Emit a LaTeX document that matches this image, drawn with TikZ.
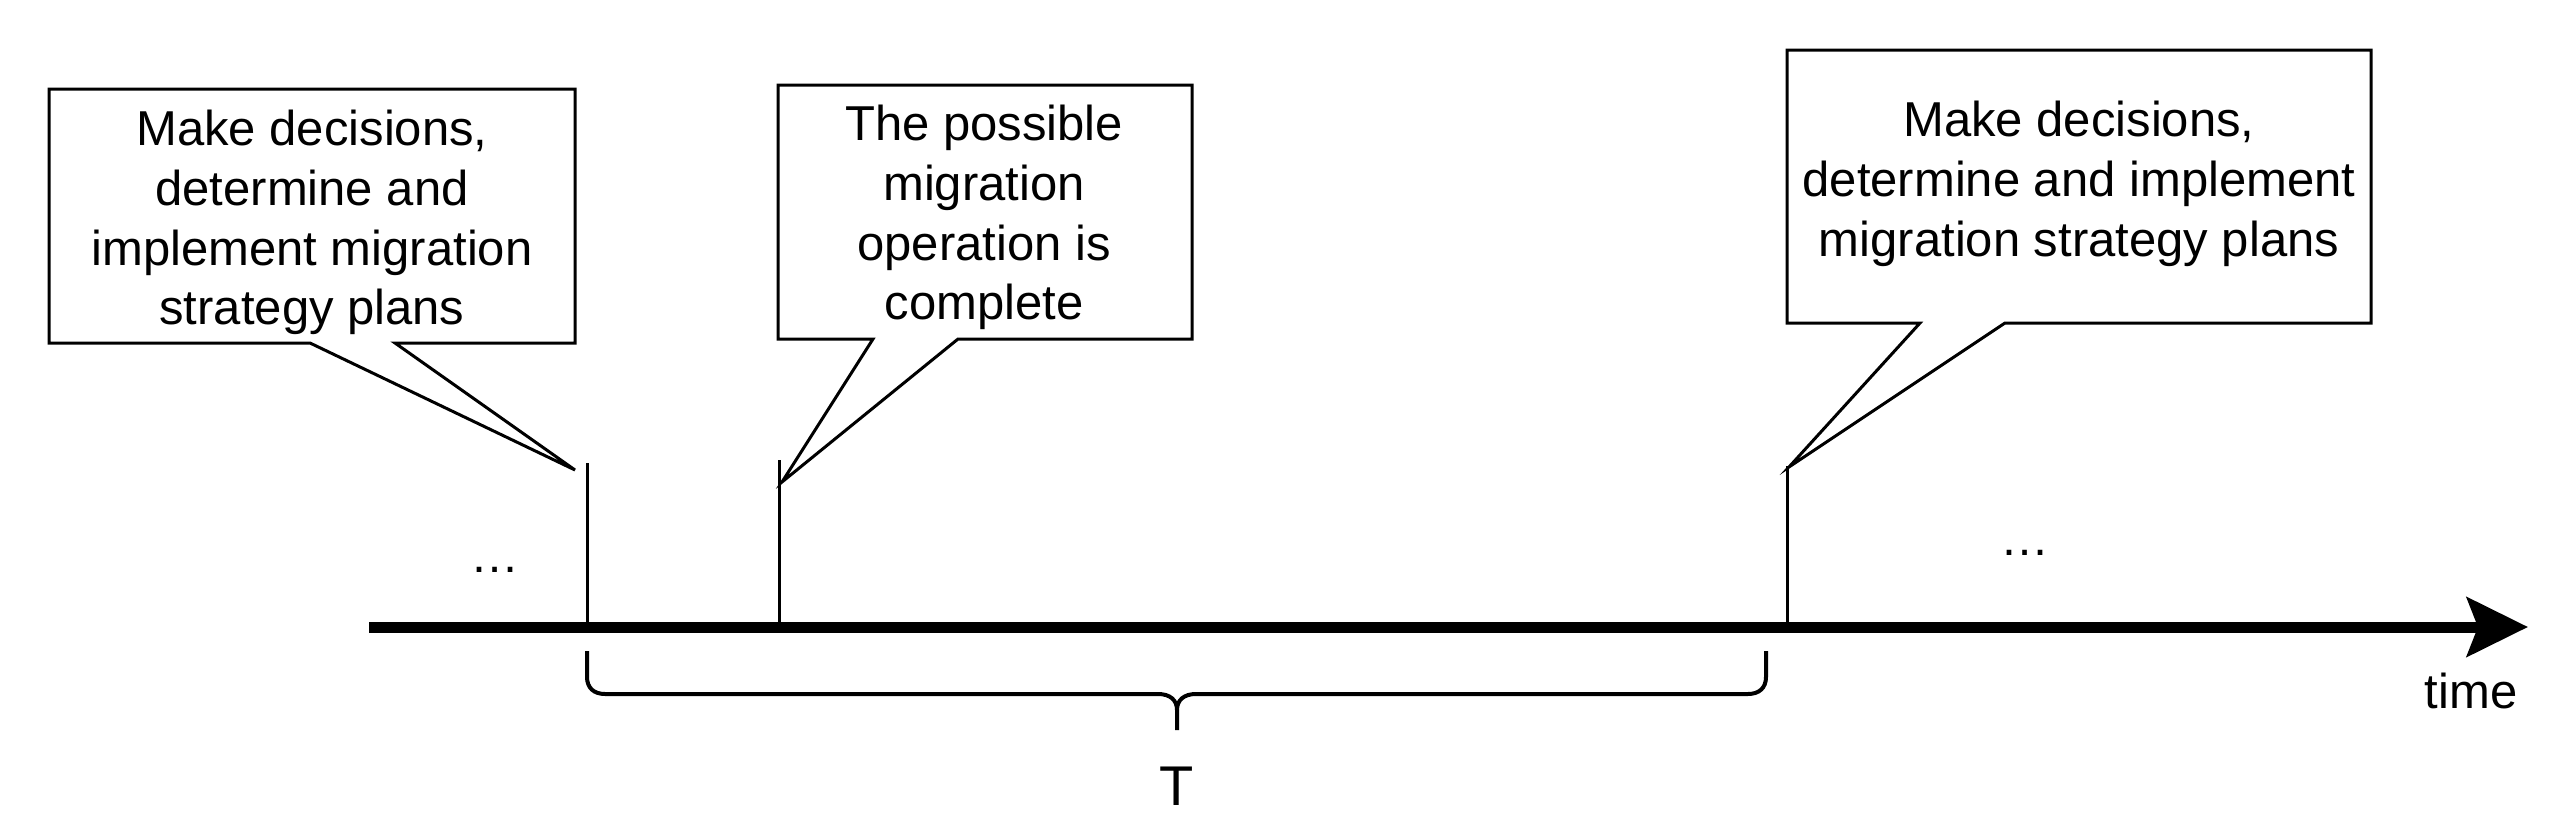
\documentclass[tikz,border=0pt]{standalone}
\usepackage{fontspec}
\setmainfont{Liberation Sans}
\usetikzlibrary{arrows.meta}

\tikzset{
  callout/.style={line width=1.5pt, line join=miter},
  boxtext/.style={align=center, inner sep=0pt, anchor=north, font=\fontsize{24.5pt}{29.8pt}\selectfont},
  axislabel/.style={inner sep=0pt, anchor=base, font=\fontsize{24.5pt}{29.8pt}\selectfont},
  tick/.style={line width=1.5pt},
  timeaxis/.style={line width=5.5pt, -{Stealth[length=30.5pt, width=29.5pt, inset=5.5pt]}},
  brace/.style={line width=2pt}
}

\begin{document}
\begin{tikzpicture}[x=0.5pt, y=-0.5pt]
\useasboundingbox (0,0) rectangle (2565,835);

% time axis and ticks
\coordinate (axstart) at (369,627);
\coordinate (axend) at (2528,627);
\coordinate (tick1) at (587,463);
\coordinate (tick2) at (779,460);
\coordinate (tick3) at (1787,466);
\draw[timeaxis] (axstart) -- (axend);
\foreach \t in {tick1,tick2,tick3}
  \draw[tick] (\t) -- (\t |- axstart);

% callouts
\coordinate (tip1) at (575,470);
\coordinate (tip2) at (782,482);
\coordinate (tip3) at (1789,467);
\draw[callout] (49,89) -- (575,89) -- (575,343) -- (395,343) -- (tip1) -- (310,343) -- (49,343) -- cycle;
\draw[callout] (778,85) -- (1192,85) -- (1192,339) -- (958,339) -- (tip2) -- (873,339) -- (778,339) -- cycle;
\draw[callout] (1787,50) -- (2371,50) -- (2371,323) -- (2005,323) -- (tip3) -- (1920,323) -- (1787,323) -- cycle;

\node[boxtext] (box1) at (312,110) {Make decisions,\\determine and\\implement migration\\strategy plans};
\node[boxtext] (box2) at (984,105) {The possible\\migration\\operation is\\complete};
\node[boxtext] (box3) at (2079,101) {Make decisions,\\determine and implement\\migration strategy plans};

% labels on the axis
\node[axislabel] (dots1) at (495,572) {\ldots};
\node[axislabel] (dots2) at (2025,555) {\ldots};
\node[axislabel] (timelabel) at (2471,708) {time};

% brace under the period
\draw[brace] (587,651) -- (587,677) .. controls (587,688) and (594,694) .. (605,694) -- (1158,694)
  .. controls (1170,694) and (1177,700) .. (1177,710) -- (1177,730);
\draw[brace] (1766,651) -- (1766,677) .. controls (1766,688) and (1759,694) .. (1748,694) -- (1196,694)
  .. controls (1184,694) and (1177,700) .. (1177,710);
\node[anchor=base, inner sep=0pt, font=\fontsize{28pt}{33pt}\selectfont] (period) at (1177,805) {T};
\end{tikzpicture}
\end{document}
